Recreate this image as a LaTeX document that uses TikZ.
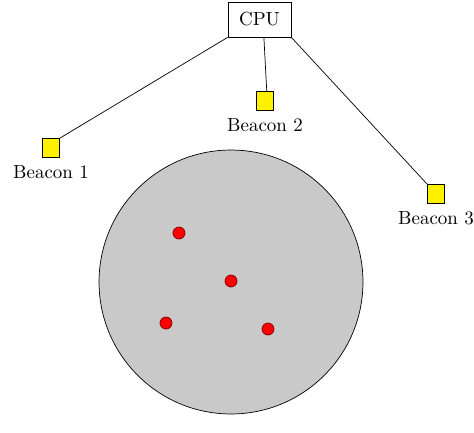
\documentclass[tikz,border=0pt]{standalone}
\usetikzlibrary{positioning}

\begin{document}
\begin{tikzpicture}[x=0.02cm, y=-0.02cm, semithick,
    every label/.style={font=\fontsize{10.8}{13}\selectfont}]
    \tikzstyle{beacon}=[
        draw = black,
        thin,
        fill = yellow,
        minimum width = 3.4mm,
        minimum height = 3.8mm,
        inner sep = 0pt
    ]
    \tikzstyle{tag}=[
        circle,
        draw = red!50!black,
        thin,
        fill = red,
        minimum size = 2.4mm,
        inner sep = 0pt
    ]
    \useasboundingbox (0,0) rectangle (474,433);
    % area
    \node[circle, draw=black, thin, fill=black!21, minimum size=5.28cm, inner sep=0pt] (area) at (231,282) {};
    \node[tag] (t1) at (179,233) {};
    \node[tag] (t2) at (231,281) {};
    \node[tag] (t3) at (166,323) {};
    \node[tag] (t4) at (268,329) {};
    % cpu and beacons
    \node[draw=black, thin, minimum width=1.26cm, minimum height=0.7cm, font=\fontsize{10.8}{13}\selectfont] (cpu) at (259.5,19.5) {CPU};
    \node[beacon, label={[label distance=1pt]below:Beacon 1}] (b1) at (51,148) {};
    \node[beacon, label={[label distance=1pt]below:Beacon 2}] (b2) at (265,101) {};
    \node[beacon, label={[label distance=1pt]below:Beacon 3}] (b3) at (436,194) {};
    \path[-, thin] (cpu.south west) edge (b1.north east)
             ([xshift=2.5pt]cpu.south) edge ([xshift=1pt]b2.north)
             (cpu.south east) edge (b3.north west);
\end{tikzpicture}
\end{document}
